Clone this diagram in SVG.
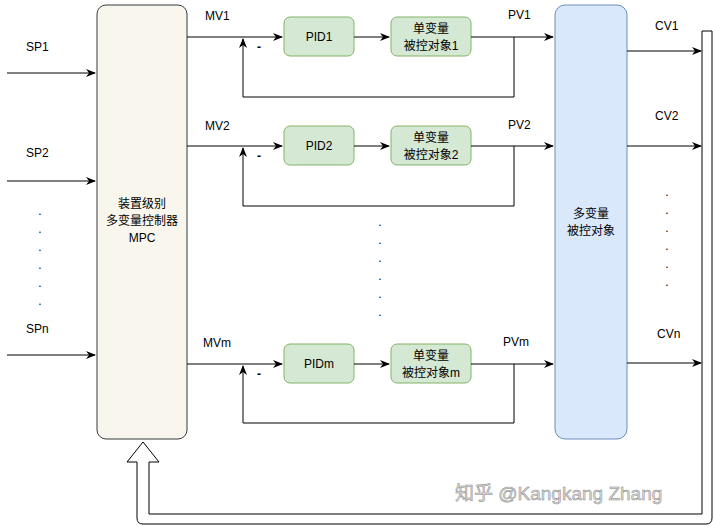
<svg xmlns="http://www.w3.org/2000/svg" width="713" height="526" viewBox="0 0 713 526">
<defs>
<marker id="a" markerWidth="10" markerHeight="10" refX="9" refY="5" orient="auto" markerUnits="userSpaceOnUse"><path d="M0,1 L10,5 L0,9 L3,5 Z" fill="#000"/></marker>
<style>
text{font-family:"Liberation Sans","Noto Sans CJK SC",sans-serif;font-size:12px;fill:#000}
.c{text-anchor:middle}
.g{fill:#d5e8d4;stroke:#82b366;stroke-width:1}
.l{fill:none;stroke:#000;stroke-width:1}
</style>
</defs>
<rect width="713" height="526" fill="#fff"/>
<g id="mpc"><rect x="97" y="5" width="90" height="434" rx="9" fill="#f9f7ed" stroke="#36393d"/><text class="c" x="142" y="208">装置级别</text><text class="c" x="142" y="225">多变量控制器</text><text class="c" x="142" y="242">MPC</text></g>
<g id="plant"><rect x="555" y="5" width="72" height="434" rx="10" fill="#dae8fc" stroke="#6c8ebf"/><text class="c" x="591" y="218">多变量</text><text class="c" x="591" y="235">被控对象</text></g>
<g id="pid1"><rect x="284" y="17" width="70" height="39" rx="6" class="g"/><text class="c" x="319" y="41">PID1</text></g>
<g id="p1"><rect x="391" y="17" width="80" height="39" rx="6" class="g"/><text class="c" x="431" y="33">单变量</text><text class="c" x="431" y="50">被控对象1</text></g>
<g id="pid2"><rect x="284" y="126" width="70" height="39" rx="6" class="g"/><text class="c" x="319" y="150">PID2</text></g>
<g id="p2"><rect x="391" y="126" width="80" height="39" rx="6" class="g"/><text class="c" x="431" y="142">单变量</text><text class="c" x="431" y="159">被控对象2</text></g>
<g id="pidm"><rect x="284" y="344" width="70" height="39" rx="6" class="g"/><text class="c" x="319" y="368">PIDm</text></g>
<g id="pm"><rect x="391" y="344" width="80" height="39" rx="6" class="g"/><text class="c" x="431" y="360">单变量</text><text class="c" x="431" y="377">被控对象m</text></g>
<g id="connectors" class="l">
<path d="M7,73 H95" marker-end="url(#a)"/><path d="M7,181 H95" marker-end="url(#a)"/><path d="M7,355 H95" marker-end="url(#a)"/>
<path d="M187,37 H282" marker-end="url(#a)"/><path d="M354,37 H389" marker-end="url(#a)"/><path d="M471,37 H553" marker-end="url(#a)"/><path d="M514,37 V97 H243 V39" marker-end="url(#a)"/>
<path d="M187,146 H282" marker-end="url(#a)"/><path d="M354,146 H389" marker-end="url(#a)"/><path d="M471,146 H553" marker-end="url(#a)"/><path d="M514,146 V206 H243 V148" marker-end="url(#a)"/>
<path d="M187,364 H282" marker-end="url(#a)"/><path d="M354,364 H389" marker-end="url(#a)"/><path d="M471,364 H553" marker-end="url(#a)"/><path d="M514,364 V423 H243 V366" marker-end="url(#a)"/>
<path d="M627,51 H701" marker-end="url(#a)"/><path d="M627,146 H701" marker-end="url(#a)"/><path d="M627,363 H701" marker-end="url(#a)"/>
<path d="M702,31 H712 V518 Q712,524 706,524 H143 Q137,524 137,518 V462 H127 L143,442 L159,462 H149 V514 H702 Z" fill="#fff" stroke="#000"/>
</g>
<g id="labels">
<text x="26" y="51">SP1</text><text x="26" y="157">SP2</text><text x="26" y="333">SPn</text>
<text x="205" y="20">MV1</text><text x="205" y="130">MV2</text><text x="203" y="347">MVm</text>
<text x="508" y="19">PV1</text><text x="508" y="129">PV2</text><text x="503" y="346">PVm</text>
<text x="655" y="30">CV1</text><text x="655" y="120">CV2</text><text x="657" y="338">CVn</text>
<text x="257" y="51" font-weight="bold">-</text><text x="257" y="160" font-weight="bold">-</text><text x="257" y="378" font-weight="bold">-</text>
<text class="c" x="40" y="215">.</text><text class="c" x="40" y="233">.</text><text class="c" x="40" y="251">.</text><text class="c" x="40" y="269">.</text><text class="c" x="40" y="287">.</text><text class="c" x="40" y="305">.</text>
<text class="c" x="380" y="226">.</text><text class="c" x="380" y="244">.</text><text class="c" x="380" y="262">.</text><text class="c" x="380" y="280">.</text><text class="c" x="380" y="298">.</text><text class="c" x="380" y="316">.</text>
<text class="c" x="667" y="196">.</text><text class="c" x="667" y="214">.</text><text class="c" x="667" y="232">.</text><text class="c" x="667" y="250">.</text><text class="c" x="667" y="268">.</text><text class="c" x="667" y="286">.</text>
<text x="455" y="500" style="font-size:19px;fill:#ddd;stroke:#888;stroke-width:0.5">知乎 @Kangkang Zhang</text>
</g>
</svg>
